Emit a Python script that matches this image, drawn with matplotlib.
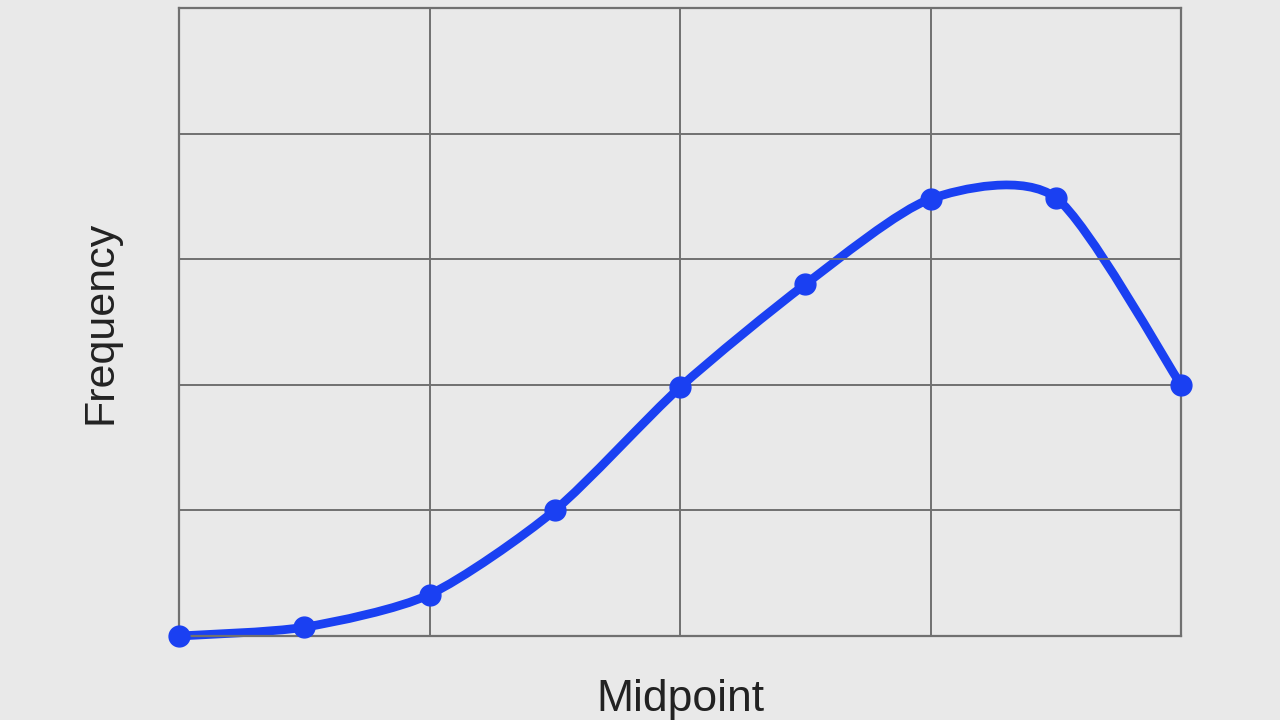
import numpy as np
import matplotlib
matplotlib.use('Agg')
import matplotlib.pyplot as plt
from matplotlib.path import Path
from matplotlib.patches import PathPatch

# values
midpoints = [0, 1, 2, 3, 4, 5, 6, 7, 8]
frequency = [0.0, 0.07, 0.33, 1.0, 1.98, 2.8, 3.48, 3.49, 2.0]

bg = '#e9e9e9'
blue = '#1a40f2'
gridc = '#707070'

plt.rcParams['font.family'] = ['Liberation Sans', 'DejaVu Sans']

fig = plt.figure(figsize=(12.8, 7.2), dpi=100, facecolor=bg)
ax = fig.add_axes([179 / 1280, 84 / 720, 1002 / 1280, 628 / 720])
ax.set_facecolor(bg)

ax.set_xlim(0, 8)
ax.set_ylim(0, 5)
ax.set_xticks([0, 2, 4, 6, 8])
ax.set_yticks([0, 1, 2, 3, 4, 5])
ax.tick_params(length=0, labelbottom=False, labelleft=False)
ax.grid(True, color=gridc, linewidth=1.4)
for s in ax.spines.values():
    s.set_color(gridc)
    s.set_linewidth(1.6)

# smooth line through the points (Catmull-Rom style cubic Bezier segments)
x = np.array(midpoints, dtype=float)
y = np.array(frequency, dtype=float)
pts = np.column_stack([x, y])
ext = np.vstack([pts[0], pts, pts[-1]])
k = 1 / 8
verts = [tuple(pts[0])]
codes = [Path.MOVETO]
for i in range(1, len(ext) - 2):
    p0, p1, p2, p3 = ext[i - 1], ext[i], ext[i + 1], ext[i + 2]
    c1 = p1 + (p2 - p0) * k
    c2 = p2 - (p3 - p1) * k
    verts += [tuple(c1), tuple(c2), tuple(p2)]
    codes += [Path.CURVE4] * 3
patch = PathPatch(Path(verts, codes), facecolor='none', edgecolor=blue,
                  linewidth=6.3, capstyle='round', joinstyle='round', clip_on=False)
ax.add_patch(patch)
ax.plot(x, y, linestyle='none', marker='o', markersize=15, color=blue, clip_on=False, zorder=5)

fig.text(100 / 1280, 1 - 322 / 720, 'Frequency', rotation=90, ha='center', va='center',
         fontsize=31, color='#222222')
fig.text(680 / 1280, 1 - 711 / 720, 'Midpoint', ha='center', va='baseline',
         fontsize=32, color='#222222')

fig.savefig('out.png', dpi=100, facecolor=bg)
